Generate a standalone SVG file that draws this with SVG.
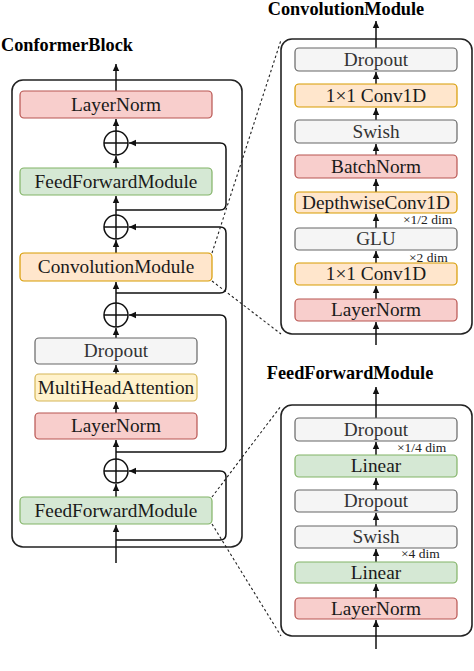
<svg xmlns="http://www.w3.org/2000/svg" width="474" height="671" viewBox="0 0 474 671">
<defs>
<marker id="ah" markerUnits="userSpaceOnUse" markerWidth="8" markerHeight="8" refX="7" refY="4" orient="auto">
<path d="M0,0.8 L7,4 L0,7.2 z" fill="#111"/>
</marker>
<style>
.t{font-family:"Liberation Serif","Times New Roman",serif;font-size:19.3px;text-anchor:middle;fill:#1a1a1a}
.tg{fill:#333}
.h{font-family:"Liberation Serif","Times New Roman",serif;font-size:18.3px;font-weight:bold;fill:#000}
.s{font-family:"Liberation Serif","Times New Roman",serif;font-size:13.5px;fill:#222}
.pk{fill:#f8cecc;stroke:#b85450;stroke-width:1.2}
.gr{fill:#d5e8d4;stroke:#82b366;stroke-width:1.2}
.or{fill:#ffe6cc;stroke:#d79b00;stroke-width:1.2}
.ye{fill:#fff2cc;stroke:#d6b656;stroke-width:1.2}
.gy{fill:#f5f5f5;stroke:#666;stroke-width:1.2}
.frame{fill:none;stroke:#222;stroke-width:1.6}
.ln{fill:none;stroke:#111;stroke-width:1.5}
.ar{fill:none;stroke:#111;stroke-width:1.5;marker-end:url(#ah)}
.dot{fill:none;stroke:#222;stroke-width:1.1;stroke-dasharray:2.5 2.5}
.add{fill:#fff;stroke:#111;stroke-width:1.5}
</style>
</defs>
<rect width="474" height="671" fill="#fff"/>

<text class="h" x="1" y="51">ConformerBlock</text>
<text class="h" x="346" y="15" text-anchor="middle">ConvolutionModule</text>
<text class="h" x="350" y="379" text-anchor="middle">FeedForwardModule</text>

<g id="frames">
<rect class="frame" x="12" y="80" width="230" height="467" rx="11"/>
<rect class="frame" x="281" y="39" width="191" height="295" rx="11"/>
<rect class="frame" x="281" y="405" width="191" height="231" rx="11"/>
</g>

<g id="connectors">
<line class="ar" x1="116" y1="563" x2="116" y2="525"/>
<line class="ar" x1="116" y1="497" x2="116" y2="484"/>
<line class="ar" x1="116" y1="459" x2="116" y2="440"/>
<line class="ar" x1="116" y1="413" x2="116" y2="402"/>
<line class="ar" x1="116" y1="374" x2="116" y2="365"/>
<line class="ar" x1="116" y1="338" x2="116" y2="328"/>
<line class="ar" x1="116" y1="303" x2="116" y2="282"/>
<line class="ar" x1="116" y1="253" x2="116" y2="240"/>
<line class="ar" x1="116" y1="215" x2="116" y2="196"/>
<line class="ar" x1="116" y1="168" x2="116" y2="156"/>
<line class="ar" x1="116" y1="131" x2="116" y2="119"/>
<line class="ar" x1="116" y1="91" x2="116" y2="64"/>
<path class="ar" d="M116,540 H220 Q226,540 226,534 V477 Q226,471 220,471 H129"/>
<path class="ar" d="M116,452 H220 Q226,452 226,446 V321 Q226,315 220,315 H129"/>
<path class="ar" d="M116,293 H220 Q226,293 226,287 V233 Q226,227 220,227 H129"/>
<path class="ar" d="M116,210 H220 Q226,210 226,204 V149 Q226,143 220,143 H129"/>
<line class="ar" x1="376" y1="345" x2="376" y2="322"/>
<line class="ar" x1="376" y1="299" x2="376" y2="286"/>
<line class="ar" x1="376" y1="263" x2="376" y2="251"/>
<line class="ar" x1="376" y1="228" x2="376" y2="214"/>
<line class="ar" x1="376" y1="192" x2="376" y2="179"/>
<line class="ar" x1="376" y1="155" x2="376" y2="144"/>
<line class="ar" x1="376" y1="120" x2="376" y2="108"/>
<line class="ar" x1="376" y1="84" x2="376" y2="72"/>
<line class="ar" x1="376" y1="48" x2="376" y2="21"/>
<line class="ar" x1="376" y1="649" x2="376" y2="620"/>
<line class="ar" x1="376" y1="598" x2="376" y2="584"/>
<line class="ar" x1="376" y1="562" x2="376" y2="549"/>
<line class="ar" x1="376" y1="526" x2="376" y2="513"/>
<line class="ar" x1="376" y1="490" x2="376" y2="478"/>
<line class="ar" x1="376" y1="455" x2="376" y2="442"/>
<line class="ar" x1="376" y1="418" x2="376" y2="387"/>
<line class="dot" x1="212" y1="253" x2="281" y2="40"/>
<line class="dot" x1="212" y1="281" x2="281" y2="334"/>
<line class="dot" x1="212" y1="497" x2="281" y2="406"/>
<line class="dot" x1="212" y1="524" x2="281" y2="636"/>
</g>

<g id="add1"><circle class="add" cx="116" cy="143" r="12"/><path class="ln" d="M104,143 H128 M116,131 V155"/></g>
<g id="add2"><circle class="add" cx="116" cy="227" r="12"/><path class="ln" d="M104,227 H128 M116,215 V239"/></g>
<g id="add3"><circle class="add" cx="116" cy="315" r="12"/><path class="ln" d="M104,315 H128 M116,303 V327"/></g>
<g id="add4"><circle class="add" cx="116" cy="471" r="12"/><path class="ln" d="M104,471 H128 M116,459 V483"/></g>

<g id="cb-layernorm-top"><rect class="pk" x="20" y="91" width="192" height="27" rx="4"/><text class="t" x="116" y="111">LayerNorm</text></g>
<g id="cb-ffm-top"><rect class="gr" x="20" y="168" width="192" height="27" rx="4"/><text class="t" x="116" y="188">FeedForwardModule</text></g>
<g id="cb-conv"><rect class="or" x="20" y="253" width="192" height="28" rx="4"/><text class="t" x="116" y="273">ConvolutionModule</text></g>
<g id="cb-dropout"><rect class="gy" x="35" y="338" width="162" height="26" rx="4"/><text class="t tg" x="116" y="357">Dropout</text></g>
<g id="cb-mha"><rect class="ye" x="35" y="374" width="162" height="27" rx="4"/><text class="t" x="116" y="394">MultiHeadAttention</text></g>
<g id="cb-layernorm"><rect class="pk" x="35" y="413" width="162" height="26" rx="4"/><text class="t" x="116" y="432">LayerNorm</text></g>
<g id="cb-ffm-bottom"><rect class="gr" x="20" y="497" width="192" height="27" rx="4"/><text class="t" x="116" y="517">FeedForwardModule</text></g>

<g id="cm-dropout"><rect class="gy" x="295" y="48" width="162" height="23" rx="4"/><text class="t tg" x="376" y="66">Dropout</text></g>
<g id="cm-conv1"><rect class="or" x="295" y="84" width="162" height="23" rx="4"/><text class="t" x="376" y="102">1×1 Conv1D</text></g>
<g id="cm-swish"><rect class="gy" x="295" y="120" width="162" height="23" rx="4"/><text class="t tg" x="376" y="138">Swish</text></g>
<g id="cm-batchnorm"><rect class="pk" x="295" y="155" width="162" height="23" rx="4"/><text class="t" x="376" y="173">BatchNorm</text></g>
<g id="cm-depthwise"><rect class="or" x="295" y="192" width="162" height="21" rx="4"/><text class="t" x="376" y="209">DepthwiseConv1D</text></g>
<text class="s" x="403" y="224">×1/2 dim</text>
<g id="cm-glu"><rect class="gy" x="295" y="228" width="162" height="22" rx="4"/><text class="t tg" x="376" y="245">GLU</text></g>
<text class="s" x="409" y="262">×2 dim</text>
<g id="cm-conv2"><rect class="or" x="295" y="263" width="162" height="22" rx="4"/><text class="t" x="376" y="280">1×1 Conv1D</text></g>
<g id="cm-layernorm"><rect class="pk" x="295" y="299" width="162" height="22" rx="4"/><text class="t" x="376" y="316">LayerNorm</text></g>

<g id="ff-dropout1"><rect class="gy" x="295" y="418" width="162" height="23" rx="4"/><text class="t tg" x="376" y="436">Dropout</text></g>
<text class="s" x="397" y="452">×1/4 dim</text>
<g id="ff-linear1"><rect class="gr" x="295" y="455" width="162" height="22" rx="4"/><text class="t" x="376" y="472">Linear</text></g>
<g id="ff-dropout2"><rect class="gy" x="295" y="490" width="162" height="22" rx="4"/><text class="t tg" x="376" y="507">Dropout</text></g>
<g id="ff-swish"><rect class="gy" x="295" y="526" width="162" height="22" rx="4"/><text class="t tg" x="376" y="543">Swish</text></g>
<text class="s" x="401" y="558">×4 dim</text>
<g id="ff-linear2"><rect class="gr" x="295" y="562" width="162" height="21" rx="4"/><text class="t" x="376" y="579">Linear</text></g>
<g id="ff-layernorm"><rect class="pk" x="295" y="598" width="162" height="21" rx="4"/><text class="t" x="376" y="615">LayerNorm</text></g>
</svg>
